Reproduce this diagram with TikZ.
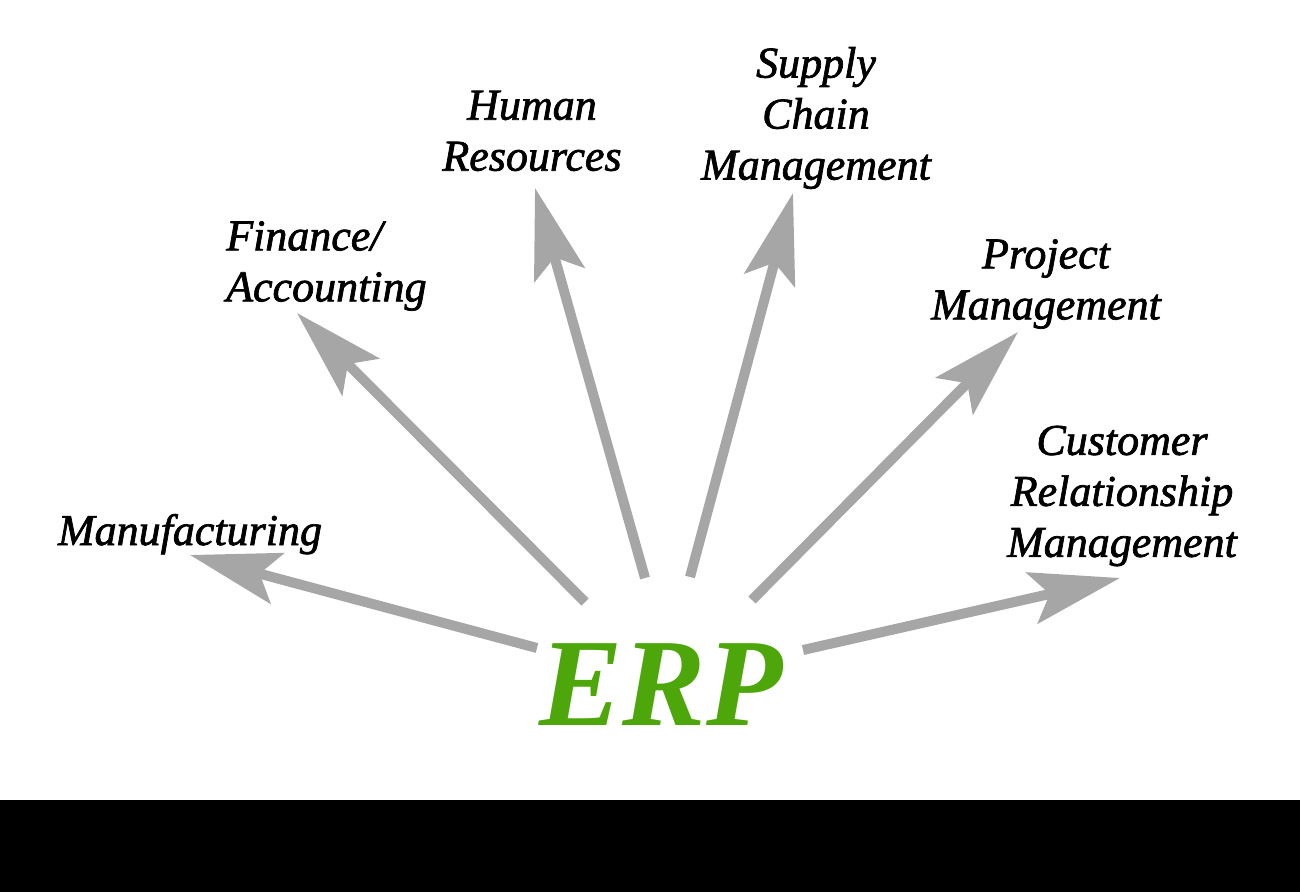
\documentclass[tikz,border=0pt]{standalone}
\usepackage{fontspec}
\setmainfont{Liberation Serif}
\newfontfamily\lblfont{Liberation Serif}[ItalicFeatures={FakeBold=1.6}]
\usetikzlibrary{arrows.meta}
\definecolor{arrgray}{RGB}{166,166,166}
\definecolor{erpgreen}{RGB}{78,167,10}
\begin{document}
\begin{tikzpicture}[x=1pt,y=-1pt,
  lbl/.style={inner sep=0pt,font=\lblfont\fontsize{44}{51}\selectfont\itshape,align=center},
  arr/.style={draw=arrgray,line width=10pt,-{Stealth[length=90pt,width=52pt,inset=18pt]}}]
\useasboundingbox (0,0) rectangle (1300,892);
\fill[white] (0,0) rectangle (1300,800);
\fill[black] (0,800) rectangle (1300,892);
% central node
\node[inner sep=0pt,anchor=base,text=erpgreen,font=\fontsize{125}{130}\selectfont\bfseries\itshape] (erp) at (661,725) {ERP};
% labels
\node[lbl,anchor=base] (man) at (190,545) {Manufacturing};
\node[lbl,align=left,anchor=west] (fin) at (226,266) {Finance/\\Accounting};
\node[lbl] (hr) at (532,131) {Human\\Resources};
\node[lbl] (scm) at (816,118) {Supply\\Chain\\Management};
\node[lbl] (pm) at (1046,284) {Project\\Management};
\node[lbl] (crm) at (1122,496) {Customer\\Relationship\\Management};
% arrow ends
\coordinate (t1) at (537,648); \coordinate (h1) at (190,555);
\coordinate (t2) at (585,602); \coordinate (h2) at (297,313);
\coordinate (t3) at (645,578); \coordinate (h3) at (535,188);
\coordinate (t4) at (690,577); \coordinate (h4) at (793,193);
\coordinate (t5) at (752,600); \coordinate (h5) at (1018,332);
\coordinate (t6) at (803,650); \coordinate (h6) at (1120,578);
\draw[arr] (t1) -- (h1);
\draw[arr] (t2) -- (h2);
\draw[arr] (t3) -- (h3);
\draw[arr] (t4) -- (h4);
\draw[arr] (t5) -- (h5);
\draw[arr] (t6) -- (h6);
\end{tikzpicture}
\end{document}
